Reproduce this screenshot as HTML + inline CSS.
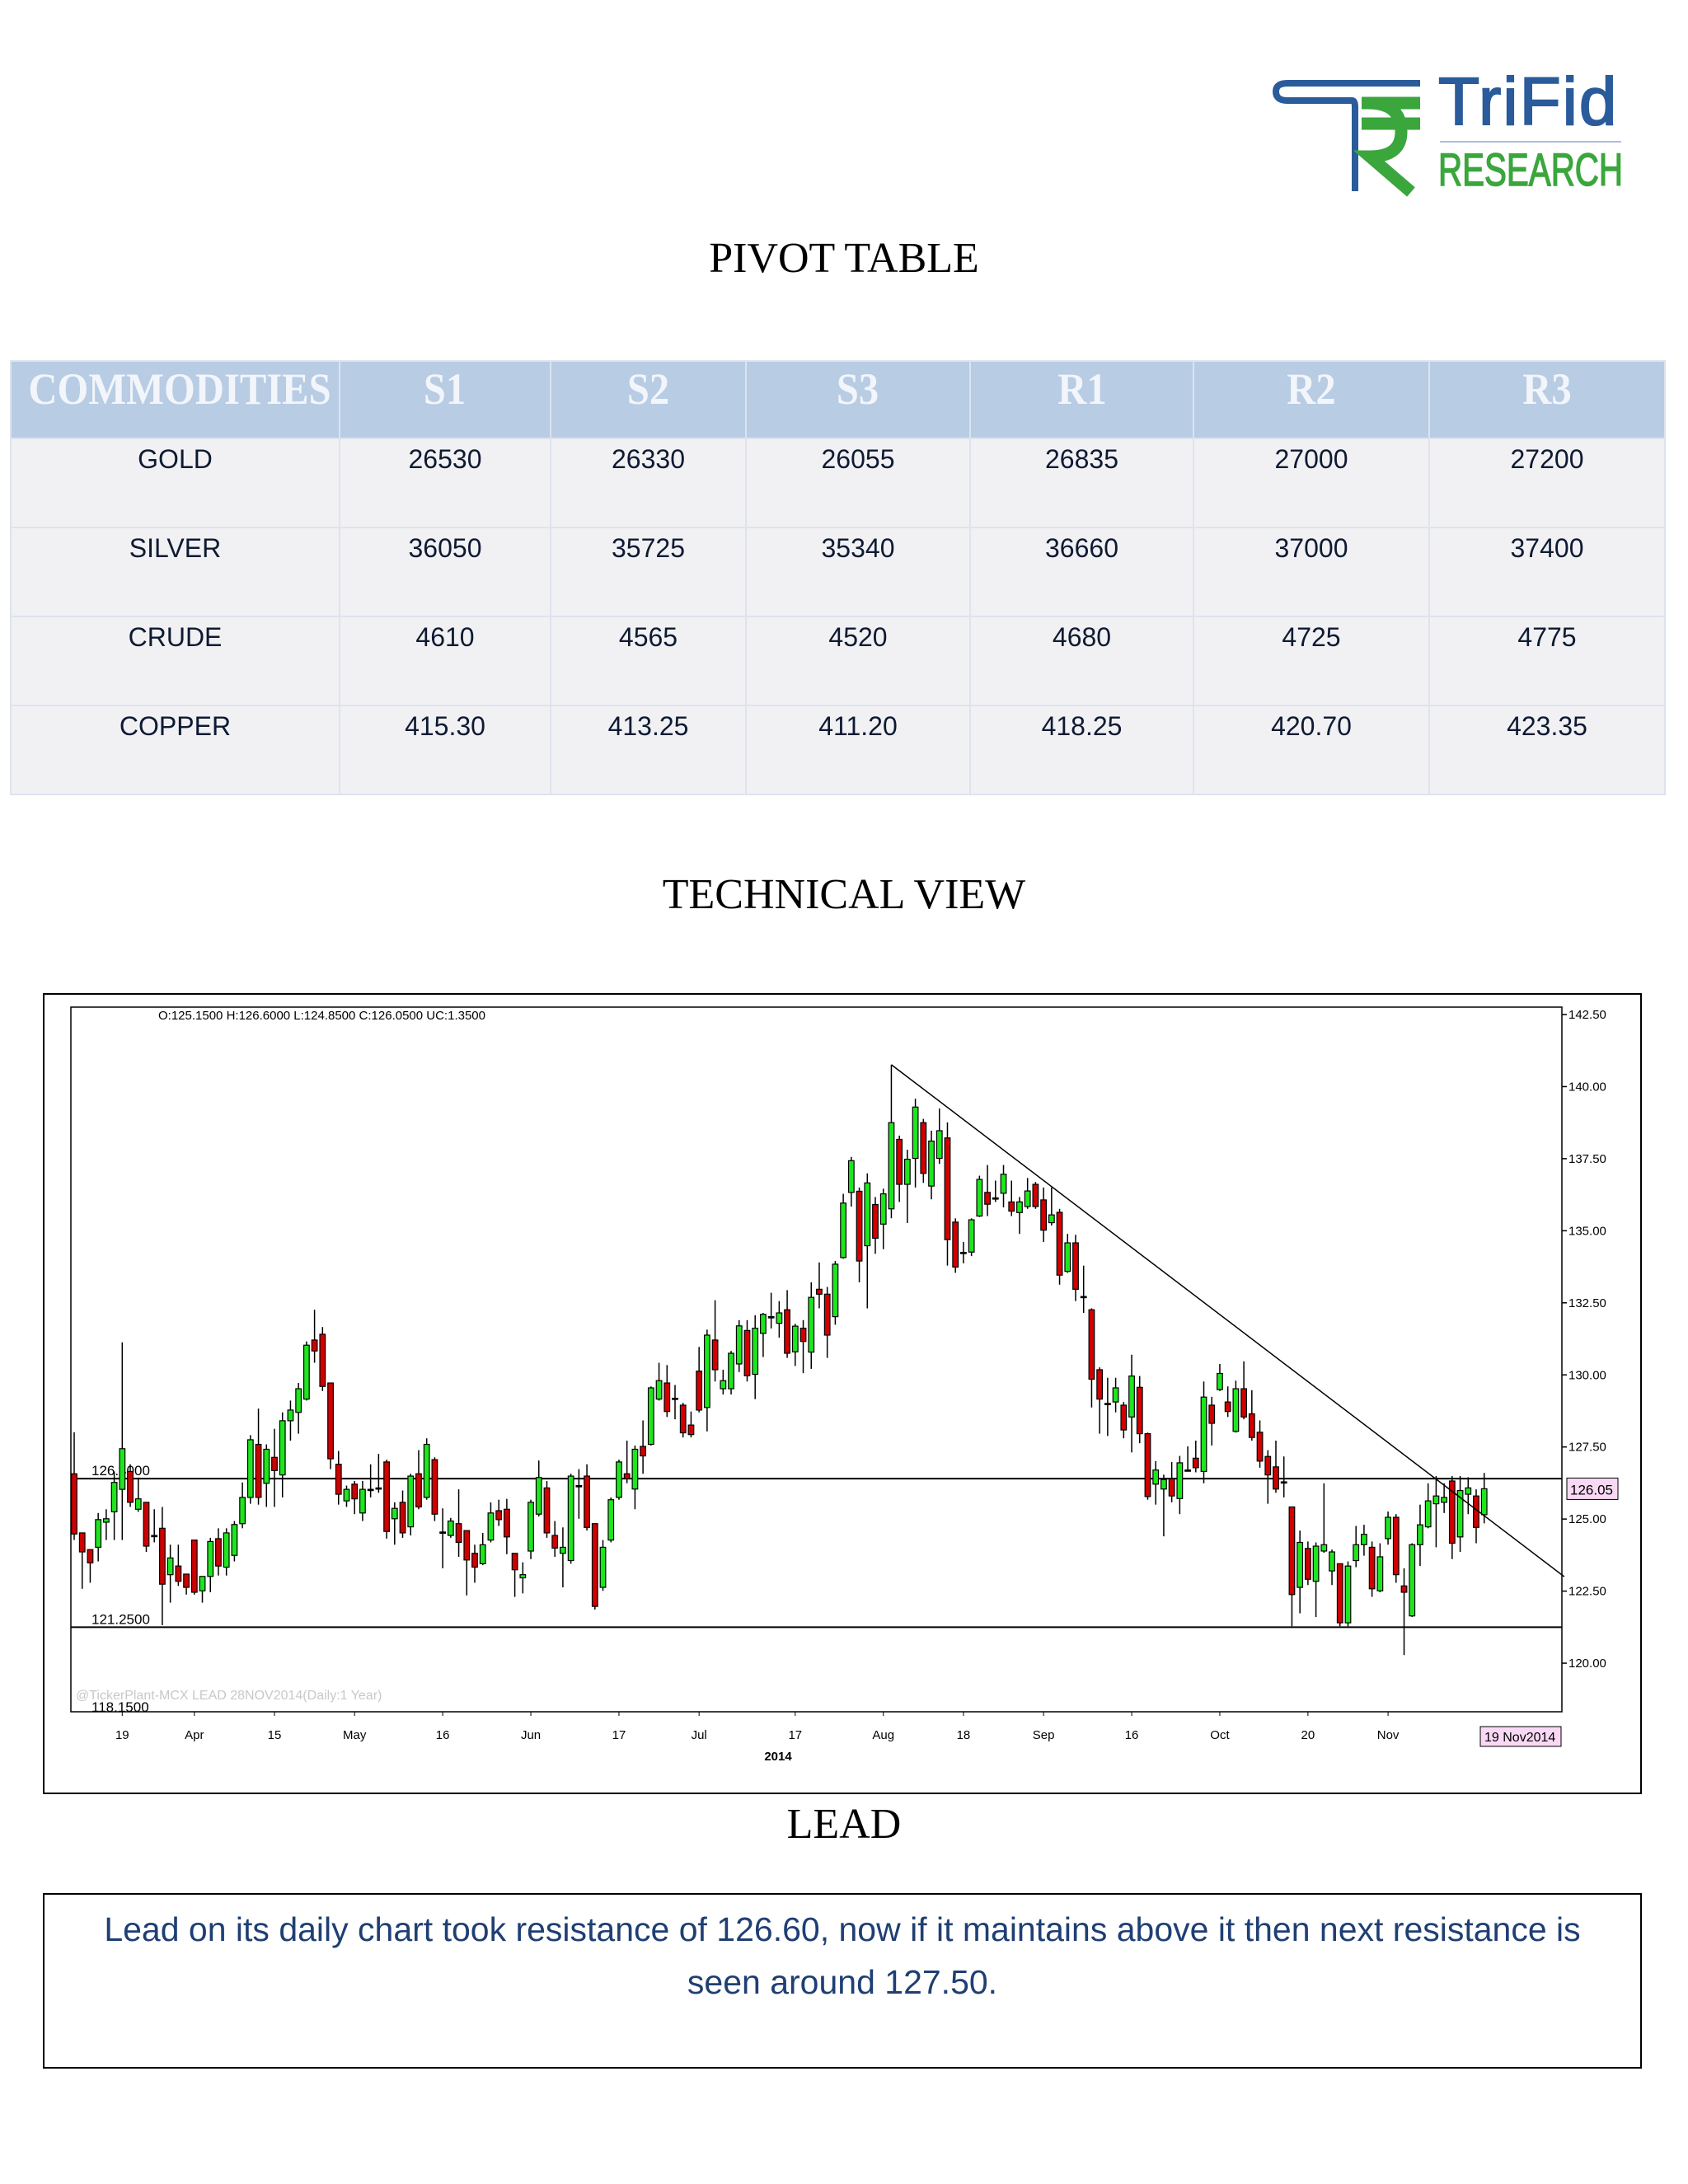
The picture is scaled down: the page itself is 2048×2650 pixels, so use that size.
<!DOCTYPE html>
<html><head><meta charset="utf-8">
<style>
html,body{margin:0;padding:0;background:#fff;}
body{width:2048px;height:2650px;position:relative;overflow:hidden;font-family:"Liberation Sans",sans-serif;}
.abs{position:absolute;}
.title{position:absolute;left:0;width:2048px;text-align:center;font-family:"Liberation Serif",serif;font-size:52px;color:#000;}
table{position:absolute;left:12px;top:437px;border-collapse:collapse;table-layout:fixed;width:2007px;}
td,th{border:2px solid #dde3ee;padding:0;text-align:center;overflow:visible;white-space:nowrap;}
th{background:#b8cce4;height:92px;color:#f2f5fa;font-family:"Liberation Serif",serif;font-weight:bold;font-size:54px;vertical-align:top;}
th span{display:inline-block;transform:scaleX(0.9);margin-top:2px;}
td{background:#f1f1f3;height:106px;vertical-align:top;font-size:32px;color:#0e1a33;}
td div{margin-top:6px;}
</style></head><body>
<div class="abs" style="left:1540px;top:85px;width:440px;height:155px;">
<svg width="440" height="155" style="position:absolute;left:0;top:0">
<path d="M183 16 H22 Q8 16 8 26 Q8 37 22 37 H100 Q104 37 104 45 V147" fill="none" stroke="#2a5b9a" stroke-width="8"/>
<path d="M112 40 H183 M112 65 H183 M120 40 Q160 40 160 75 Q160 105 122 105 L172 148" fill="none" stroke="#3aa63c" stroke-width="15"/>
</svg>
<div class="abs" style="left:205px;top:-8px;font-size:82px;color:#2a5b9a;font-family:'Liberation Sans',sans-serif;letter-spacing:2px;-webkit-text-stroke:2px #2a5b9a;">TriFid</div>
<div class="abs" style="left:207px;top:86px;width:220px;height:2px;background:#aebfd8;"></div>
<div class="abs" style="left:205px;top:88px;font-size:56px;color:#3aa63c;transform:scaleX(0.72);transform-origin:0 0;white-space:nowrap;-webkit-text-stroke:1.5px #3aa63c;">RESEARCH</div>
</div>

<div class="title" style="top:284px;">PIVOT TABLE</div>

<table>
<colgroup><col style="width:399px"><col style="width:256px"><col style="width:237px"><col style="width:272px"><col style="width:271px"><col style="width:286px"><col style="width:286px"></colgroup>
<tr>
<th><span>COMMODITIES</span></th><th><span>S1</span></th><th><span>S2</span></th><th><span>S3</span></th><th><span>R1</span></th><th><span>R2</span></th><th><span>R3</span></th></tr>
<tr><td><div>GOLD</div></td><td><div>26530</div></td><td><div>26330</div></td><td><div>26055</div></td><td><div>26835</div></td><td><div>27000</div></td><td><div>27200</div></td></tr>
<tr><td><div>SILVER</div></td><td><div>36050</div></td><td><div>35725</div></td><td><div>35340</div></td><td><div>36660</div></td><td><div>37000</div></td><td><div>37400</div></td></tr>
<tr><td><div>CRUDE</div></td><td><div>4610</div></td><td><div>4565</div></td><td><div>4520</div></td><td><div>4680</div></td><td><div>4725</div></td><td><div>4775</div></td></tr>
<tr><td><div>COPPER</div></td><td><div>415.30</div></td><td><div>413.25</div></td><td><div>411.20</div></td><td><div>418.25</div></td><td><div>420.70</div></td><td><div>423.35</div></td></tr>
</table>

<div class="title" style="top:1056px;">TECHNICAL VIEW</div>

<div class="abs" style="left:52px;top:1205px;width:1936px;height:968px;border:2px solid #000;"></div>

<svg id="chart" class="abs" style="left:0;top:0" width="2048" height="2650"></svg>

<div class="title" style="top:2184px;">LEAD</div>

<div class="abs" style="left:52px;top:2297px;width:1936px;height:209px;border:2px solid #000;">
<div style="text-align:center;font-size:41px;line-height:64px;color:#1f3f73;margin-top:10px;padding:0 55px;">Lead on its daily chart took resistance of 126.60, now if it maintains above it then next resistance is seen around 127.50.</div>
</div>

<script>
const opens=[126.57,124.52,123.94,124.02,124.89,125.25,126.03,126.65,125.34,125.58,124.43,124.68,123.07,123.37,123.09,124.27,122.51,123.01,124.32,123.33,123.74,124.84,125.75,127.59,126.24,127.14,126.53,128.41,128.70,129.16,131.21,131.41,129.72,126.90,125.63,126.21,125.21,126.03,126.08,126.98,125.01,125.58,124.73,126.57,125.75,127.06,124.55,124.43,124.84,124.60,123.81,123.45,124.27,125.29,125.34,123.81,122.96,123.89,125.17,126.08,124.43,123.81,123.56,126.16,126.49,124.84,122.63,124.27,125.75,126.57,126.04,127.52,127.59,129.16,129.72,129.19,128.95,128.26,130.13,128.87,131.21,129.52,129.52,130.38,131.54,130.02,131.44,132.02,131.79,132.26,130.80,131.62,130.79,132.97,132.80,132.02,134.07,136.33,136.37,134.48,135.91,135.23,135.76,138.17,136.61,137.51,138.75,136.55,137.51,138.22,135.30,134.25,134.26,135.51,136.33,136.14,136.30,136.00,135.63,135.84,136.61,136.07,135.28,135.64,133.59,134.58,132.72,132.26,130.18,129.01,129.06,128.95,128.54,129.57,127.96,126.21,126.04,126.40,125.71,126.70,127.11,126.65,128.95,129.49,129.06,128.04,129.52,128.65,128.01,127.17,126.81,126.29,125.42,122.63,123.98,122.84,123.89,123.20,123.45,121.40,123.56,124.11,124.02,122.51,124.32,125.06,122.68,121.64,124.11,124.73,125.53,125.58,126.32,124.38,125.86,125.80,125.15];
const highs=[128.01,124.52,123.94,125.21,125.34,126.65,131.13,126.90,126.44,125.58,125.34,125.42,124.11,124.11,123.09,124.27,123.01,124.35,124.68,124.68,124.93,126.27,127.91,128.83,127.59,128.13,128.70,129.11,129.72,131.16,132.26,131.66,129.72,127.36,126.16,126.32,126.32,126.90,127.26,127.06,125.58,125.99,126.57,127.39,127.80,127.14,125.37,125.04,126.03,124.60,124.11,124.52,125.58,125.67,125.70,123.81,123.50,125.67,127.03,126.32,124.93,124.71,126.57,126.73,126.90,124.84,124.27,125.75,127.06,127.72,127.55,128.42,129.60,130.42,130.34,129.65,129.03,128.73,130.97,131.57,132.59,130.18,130.83,131.90,131.90,132.07,132.15,132.85,132.56,132.94,131.77,131.90,133.21,133.90,133.05,133.95,136.28,137.56,136.50,136.99,136.17,136.46,140.76,138.30,137.81,139.58,138.88,138.47,139.24,138.76,135.43,134.61,135.43,136.91,137.28,136.74,137.28,136.74,136.17,136.83,136.69,136.50,136.50,135.76,134.89,134.86,133.79,132.31,130.26,129.90,129.90,129.06,130.70,129.96,128.00,127.01,126.54,126.98,127.19,127.52,127.72,129.77,129.24,130.38,129.60,129.80,130.47,129.47,128.42,127.39,127.72,127.17,125.42,124.60,124.22,124.19,126.24,123.94,123.45,123.53,124.76,124.80,124.22,124.16,125.26,125.17,123.29,124.16,125.50,126.24,126.49,126.24,126.49,126.49,126.45,126.03,126.60];
const lows=[124.27,122.58,122.79,123.53,124.27,124.27,124.27,125.42,125.25,123.86,124.19,121.32,122.10,122.68,122.38,122.38,122.10,122.46,123.04,123.04,123.53,124.68,125.53,125.50,125.42,125.42,125.75,127.72,127.96,129.11,130.42,129.44,126.73,125.50,125.42,125.17,124.93,125.75,125.91,124.32,124.11,124.35,124.43,125.34,125.67,124.93,123.29,124.35,123.69,122.35,122.79,123.40,124.19,124.76,123.78,122.30,122.42,123.61,125.09,124.35,123.69,122.63,123.45,125.01,124.60,121.86,122.51,124.19,125.67,126.24,125.34,126.57,127.55,129.11,128.54,128.46,127.83,127.83,128.70,128.04,129.77,129.32,129.32,130.10,129.77,129.16,130.62,131.61,131.29,130.59,130.31,130.06,130.21,132.31,130.59,131.74,134.03,135.84,133.21,132.31,134.20,134.36,135.43,136.00,135.27,136.50,136.66,136.09,137.32,133.79,133.54,133.87,134.12,135.48,135.51,136.00,135.81,135.51,134.89,135.76,135.76,134.61,135.18,133.13,133.54,132.56,132.15,128.87,127.96,127.88,128.70,127.80,127.31,127.63,125.67,125.50,124.40,125.58,125.17,126.65,126.62,126.24,127.55,129.44,128.54,128.00,128.46,127.72,126.78,125.53,125.91,125.75,121.28,121.73,122.71,121.60,123.83,122.71,121.28,121.28,123.33,123.73,122.30,122.46,124.11,122.79,120.28,121.60,123.37,124.68,124.02,125.21,123.61,123.86,125.17,124.16,124.85];
const closes=[124.48,123.86,123.48,124.98,125.01,126.27,127.44,125.58,125.70,124.06,124.43,122.74,123.65,122.84,122.63,122.46,123.01,124.22,123.37,124.52,124.81,125.75,127.75,125.75,127.42,126.68,128.41,128.78,129.52,131.03,130.83,129.60,127.09,125.86,126.03,125.70,126.03,126.03,126.08,124.57,125.37,124.52,126.49,125.42,127.59,125.17,124.55,124.93,124.19,123.58,123.33,124.11,125.21,124.98,124.38,123.24,123.07,125.58,126.44,124.52,123.99,124.02,126.49,126.16,124.71,121.97,124.02,125.67,126.98,126.40,127.42,127.19,129.55,129.80,128.73,129.19,127.99,127.93,128.78,131.38,130.18,129.80,130.75,131.70,129.97,131.62,132.10,132.02,132.15,130.75,131.69,131.16,132.69,132.80,131.38,133.84,135.96,137.43,133.95,136.66,134.74,136.28,138.75,136.61,137.48,139.29,136.99,138.11,138.47,134.69,133.74,134.25,135.38,136.78,135.92,136.14,136.96,135.68,136.00,136.38,135.84,135.02,135.55,133.46,134.58,132.97,132.72,129.85,129.16,129.01,129.55,128.09,129.96,127.96,125.78,126.70,126.37,125.80,126.95,126.70,126.78,129.23,128.32,130.05,128.73,129.52,128.54,127.83,127.01,126.53,126.04,126.29,122.38,124.19,122.91,124.06,124.11,123.86,121.40,123.37,124.11,124.47,122.58,123.69,125.06,123.07,122.46,124.11,124.80,125.63,125.80,125.75,124.16,125.99,126.08,124.71,126.05];
const priceTicks=[142.5,140,137.5,135,132.5,130,127.5,125,122.5,120];
const levels=[126.40,121.25];
const dateLabels=["19","Apr","15","May","16","Jun","17","Jul","17","Aug","18","Sep","16","Oct","20","Nov"];
const dateIdx=[6,15,25,35,46,57,68,78,90,101,111,121,132,143,154,164];
const trendStart=[102,140.76];
const trendEnd=[186,123.0];

const NS="http://www.w3.org/2000/svg";
const svg=document.getElementById('chart');
const PL=86,PR=1895,PT=1222,PB=2077;
function yS(p){return 1231+(142.5-p)*34.98;}
function xS(i){return 90+i*9.72;}
function mk(tag,attrs,parent){const e=document.createElementNS(NS,tag);for(const k in attrs)e.setAttribute(k,attrs[k]);(parent||svg).appendChild(e);return e;}
function txt(s,x,y,attrs){const e=mk('text',Object.assign({x:x,y:y},attrs));e.textContent=s;return e;}

const plot=mk('rect',{x:PL,y:PT,width:PR-PL,height:PB-PT,fill:'#fff',stroke:'#000','stroke-width':1.5});



const ax=mk('g',{});


priceTicks.forEach(p=>{
  const y=yS(p);
  mk('line',{x1:PR,x2:PR+6,y1:y,y2:y,stroke:'#000','stroke-width':1.5},ax);
  const t=txt(p.toFixed(2),PR+8,y+5,{'font-size':15,'font-family':'Liberation Sans, sans-serif',fill:'#000'});
  ax.appendChild(t);
});
const xa=mk('g',{});


dateLabels.forEach((d,k)=>{
  const x=xS(dateIdx[k]);
  mk('line',{x1:x,x2:x,y1:PB,y2:PB+5,stroke:'#000'},xa);
  const t=txt(d,x,2110,{'font-size':15,'text-anchor':'middle','font-family':'Liberation Sans, sans-serif'});
  xa.appendChild(t);
});
const yr=txt('2014',944,2136,{'font-size':15,'text-anchor':'middle','font-weight':'bold','font-family':'Liberation Sans, sans-serif'});



levels.forEach((l,k)=>{
  const ln=mk('line',{x1:PL,x2:PR,y1:yS(l),y2:yS(l),stroke:'#000','stroke-width':2});
  
  
  const t=txt(l.toFixed(4),111,yS(l)-4,{'font-size':17,'font-family':'Liberation Sans, sans-serif'});
  
  
});
const lowLbl=txt('118.1500',111,2077,{'font-size':17,'font-family':'Liberation Sans, sans-serif'});


const wm=txt('@TickerPlant-MCX LEAD 28NOV2014(Daily:1 Year)',92,2062,{'font-size':16,fill:'#c8c8c8','font-family':'Liberation Sans, sans-serif'});


const hdr=txt('O:125.1500  H:126.6000  L:124.8500  C:126.0500  UC:1.3500',192,1237,{'font-size':15,'font-family':'Liberation Sans, sans-serif','xml:space':'preserve'});



for(let i=0;i<opens.length;i++){
  const g=mk('g',{});
  
  
  const x=xS(i),o=opens[i],c=closes[i];
  mk('line',{x1:x,x2:x,y1:yS(highs[i]),y2:yS(lows[i]),stroke:'#000','stroke-width':1.5},g);
  const top=yS(Math.max(o,c)),bot=yS(Math.min(o,c));
  const h=Math.max(bot-top,1.5);
  const col=c>o?'#1ee61e':(c<o?'#d00000':'#000');
  mk('rect',{x:x-3.3,y:top,width:6.6,height:h,fill:col,stroke:'#000','stroke-width':1.2},g);
}

const tl=mk('line',{x1:xS(trendStart[0]),y1:yS(trendStart[1]),x2:xS(trendEnd[0]),y2:yS(trendEnd[1]),stroke:'#000','stroke-width':1.5});



const lp=closes[closes.length-1];
const lb=mk('rect',{x:PR+6,y:yS(lp)-13,width:62,height:26,fill:'#f8d8f4',stroke:'#000'});


const lt=txt(lp.toFixed(2),PR+10,yS(lp)+7,{'font-size':17,'font-family':'Liberation Sans, sans-serif'});


const db=mk('rect',{x:1796,y:2095,width:98,height:24,fill:'#f8d8f4',stroke:'#000'});


const dt=txt('19 Nov2014',1801,2113,{'font-size':16,'font-family':'Liberation Sans, sans-serif'});


</script>
</body></html>
